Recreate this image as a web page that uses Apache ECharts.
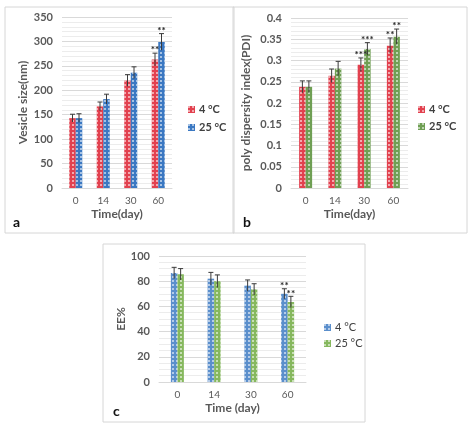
<!DOCTYPE html>
<html><head><meta charset="utf-8">
<script src="https://cdn.jsdelivr.net/npm/echarts@6/dist/echarts.min.js"></script>
<style>html,body{margin:0;padding:0;background:#fff}#c{width:474px;height:433px}</style>
</head><body><div id="c"></div>
<script>
const categories = ['0', '14', '30', '60'];
const legendNames = ['4 °C', '25 °C'];
// Panel a: vesicle size (nm)
const sizeCold = [143, 167, 220, 263];
const sizeWarm = [143, 182, 236, 299];
const sizeColdErr = [8, 9, 12, 13];
const sizeWarmErr = [9, 10, 12, 17];
const sizeColdSig = ['', '', '', '**'];
const sizeWarmSig = ['', '', '', '**'];
// Panel b: PDI
const pdiCold = [0.238, 0.264, 0.290, 0.335];
const pdiWarm = [0.238, 0.281, 0.327, 0.356];
const pdiColdErr = [0.014, 0.016, 0.016, 0.018];
const pdiWarmErr = [0.014, 0.017, 0.015, 0.018];
const pdiColdSig = ['', '', '***', '**'];
const pdiWarmSig = ['', '', '***', '**'];
// Panel c: EE%
const eeCold = [86.5, 82, 76.5, 70];
const eeWarm = [85.5, 80, 73.5, 63.5];
const eeColdErr = [4.5, 5, 4.5, 4];
const eeWarmErr = [4.5, 5, 4.5, 4.5];
const eeColdSig = ['', '', '', '**'];
const eeWarmSig = ['', '', '', '**'];

const RED = '#e2414f', BLUE = '#3b78c2', GREEN_B = '#6f9f54', BLUE_C = '#5b8fcc', GREEN_C = '#86b85e';
const FONT = 'Lato';
const BW = 6.5;

function decal() {
  return { symbol: 'rect', symbolSize: 1, dashArrayX: [1.5, 1.5], dashArrayY: [1.5, 1.5], color: 'rgba(255,255,255,0.55)', rotation: 0 };
}
function barSeries(name, gi, vals, color) {
  return { type: 'bar', name: name, xAxisIndex: gi, yAxisIndex: gi, data: vals, barWidth: BW, barGap: '0%',
    itemStyle: { color: color, decal: decal() }, emphasis: { disabled: true }, z: 2 };
}
function errSeries(gi, vals, errs, sigs, offset) {
  return { type: 'custom', xAxisIndex: gi, yAxisIndex: gi, z: 5, silent: true,
    data: vals.map((v, i) => [i, v, errs[i]]),
    encode: { x: 0, y: 1 },
    renderItem: function (params, api) {
      const i = api.value(0), v = api.value(1), e = api.value(2);
      const x = api.coord([i, v])[0] + offset;
      const lo = api.coord([i, v - e])[1];
      const hi = api.coord([i, v + e])[1];
      const st = { stroke: '#3a3a3a', lineWidth: 1 };
      const ch = [
        { type: 'line', shape: { x1: x, y1: lo, x2: x, y2: hi }, style: st },
        { type: 'line', shape: { x1: x - 2.5, y1: hi, x2: x + 2.5, y2: hi }, style: st }
      ];
      const s = sigs[params.dataIndex];
      if (s) ch.push({ type: 'text', style: { text: s, x: x, y: hi + 2, align: 'center', verticalAlign: 'bottom', font: 'bold 10px ' + FONT, fill: '#222' } });
      return { type: 'group', children: ch };
    } };
}
function xAx(gi, name) {
  return { type: 'category', gridIndex: gi, data: categories, name: name, nameLocation: 'middle', nameGap: 20,
    nameTextStyle: { fontFamily: FONT, fontWeight: 'bold', fontSize: 12, color: '#595959' },
    axisLine: { lineStyle: { color: '#d9d9d9' } }, axisTick: { show: false },
    axisLabel: { fontFamily: FONT, fontSize: 10, color: '#595959', margin: 8 } };
}
function yAx(gi, name, max, interval, gap, minorN, fs) {
  return { type: 'value', gridIndex: gi, min: 0, max: max, interval: interval, name: name, nameLocation: 'middle', nameGap: gap,
    nameTextStyle: { fontFamily: FONT, fontWeight: 'bold', fontSize: 12, color: '#595959' },
    axisLine: { show: false }, axisTick: { show: false },
    axisLabel: { fontFamily: FONT, fontSize: fs, fontWeight: 'bold', color: '#595959', margin: 9 },
    splitLine: { lineStyle: { color: '#d9d9d9' } },
    minorTick: { show: false, splitNumber: minorN },
    minorSplitLine: { show: true, lineStyle: { color: '#ececec' } } };
}
function legend(left, top, names, bold, gap) {
  return { left: left, top: top, orient: 'vertical', data: names, itemWidth: 7, itemHeight: 7, itemGap: gap, icon: 'rect',
    selectedMode: false, padding: 0,
    formatter: function (n) { return n.indexOf('25') >= 0 ? legendNames[1] : legendNames[0]; },
    textStyle: { fontFamily: FONT, fontSize: 11, fontWeight: bold ? 'bold' : 'normal', color: '#404040', padding: [0, 0, 0, -1] } };
}

const chart = echarts.init(document.getElementById('c'), null, { renderer: 'canvas' });
chart.setOption({
  animation: false,
  backgroundColor: '#fff',
  graphic: [
    { type: 'rect', shape: { x: 5, y: 7, width: 229, height: 226 }, style: { fill: 'none', stroke: '#d6d6d6', lineWidth: 1 }, z: -10 },
    { type: 'rect', shape: { x: 233, y: 7, width: 234, height: 226 }, style: { fill: 'none', stroke: '#d6d6d6', lineWidth: 1 }, z: -10 },
    { type: 'rect', shape: { x: 103, y: 244, width: 262, height: 178 }, style: { fill: 'none', stroke: '#d6d6d6', lineWidth: 1 }, z: -10 },
    { type: 'text', left: 13, top: 215, style: { text: 'a', font: 'bold 14px ' + FONT, fill: '#111' } },
    { type: 'text', left: 243, top: 215, style: { text: 'b', font: 'bold 14px ' + FONT, fill: '#111' } },
    { type: 'text', left: 113, top: 404, style: { text: 'c', font: 'bold 14px ' + FONT, fill: '#111' } }
  ],
  grid: [
    { left: 62, right: 302, top: 17, bottom: 245 },
    { left: 291, right: 66, top: 18, bottom: 245 },
    { left: 159, right: 168, top: 256, bottom: 51 }
  ],
  xAxis: [xAx(0, 'Time(day)'), xAx(1, 'Time(day)'), xAx(2, 'Time (day)')],
  yAxis: [
    yAx(0, 'Vesicle size(nm)', 350, 50, 33, 5, 11),
    yAx(1, 'poly dispersity index(PDI)', 0.4, 0.05, 39, 5, 11),
    yAx(2, 'EE%', 100, 20, 31, 4, 11)
  ],
  legend: [
    legend(188, 104, ['a4', 'a25'], true, 7),
    legend(418, 104, ['b4', 'b25'], true, 6),
    legend(324, 322, ['c4', 'c25'], false, 5)
  ],
  series: [
    barSeries('a4', 0, sizeCold, RED), barSeries('a25', 0, sizeWarm, BLUE),
    barSeries('b4', 1, pdiCold, RED), barSeries('b25', 1, pdiWarm, GREEN_B),
    barSeries('c4', 2, eeCold, BLUE_C), barSeries('c25', 2, eeWarm, GREEN_C),
    errSeries(0, sizeCold, sizeColdErr, sizeColdSig, -BW / 2), errSeries(0, sizeWarm, sizeWarmErr, sizeWarmSig, BW / 2),
    errSeries(1, pdiCold, pdiColdErr, pdiColdSig, -BW / 2), errSeries(1, pdiWarm, pdiWarmErr, pdiWarmSig, BW / 2),
    errSeries(2, eeCold, eeColdErr, eeColdSig, -BW / 2), errSeries(2, eeWarm, eeWarmErr, eeWarmSig, BW / 2)
  ]
});
</script></body></html>
